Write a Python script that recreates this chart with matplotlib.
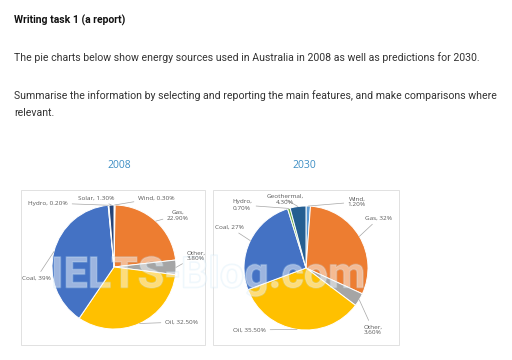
import matplotlib
matplotlib.use("Agg")
import matplotlib.pyplot as plt
import matplotlib.patheffects as pe
import numpy as np

# data (clockwise from 12 o'clock)
labels_2008 = ["Wind", "Gas", "Other", "Oil", "Coal", "Hydro", "Solar"]
values_2008 = [0.30, 22.90, 3.80, 32.50, 39.0, 0.20, 1.30]
text_2008 = ["Wind, 0.30%", "Gas,\n22.90%", "Other,\n3.80%", "Oil, 32.50%",
             "Coal, 39%", "Hydro, 0.20%", "Solar, 1.30%"]

labels_2030 = ["Wind", "Gas", "Other", "Oil", "Coal", "Hydro", "Geothermal"]
values_2030 = [1.20, 32.0, 3.60, 35.50, 27.0, 0.70, 4.30]
text_2030 = ["Wind,\n1.20%", "Gas, 32%", "Other,\n3.60%", "Oil, 35.50%",
             "Coal, 27%", "Hydro,\n0.70%", "Geothermal,\n4.30%"]

colors = {"Coal": "#4472C4", "Gas": "#ED7D31", "Other": "#A5A5A5",
          "Oil": "#FFC000", "Wind": "#5B9BD5", "Hydro": "#70AD47",
          "Solar": "#264478", "Geothermal": "#255E91"}

W, H = 512, 360
fig = plt.figure(figsize=(W / 100, H / 100), dpi=100)
bg = fig.add_axes([0, 0, 1, 1])
bg.set_xlim(0, W)
bg.set_ylim(H, 0)
bg.axis("off")

# header text
body = dict(fontsize=7.6, family="Roboto", color="#333333", va="center")
bg.text(14, 20, "Writing task 1 (a report)", fontsize=7.5, fontweight="bold",
        family="Roboto", color="#111111", va="center")
bg.text(14, 58, "The pie charts below show energy sources used in Australia in 2008 "
        "as well as predictions for 2030.", **body)
bg.text(14, 96, "Summarise the information by selecting and reporting the main "
        "features, and make comparisons where", **body)
bg.text(14, 113, "relevant.", **body)

# chart frames and titles
for x0, x1 in [(21, 205), (213, 399)]:
    bg.add_patch(plt.Rectangle((x0, 190), x1 - x0, 155, fill=False,
                               edgecolor="#dcdcdc", linewidth=0.6))
bg.text(119, 166, "2008", fontsize=7.5, family="Open Sans", color="#3d8ec4",
        ha="center", va="center")
bg.text(304, 166, "2030", fontsize=7.5, family="Open Sans", color="#3d8ec4",
        ha="center", va="center")


def draw_pie(cx, cy, r, names, values):
    ax = fig.add_axes([(cx - r) / W, (H - cy - r) / H, 2 * r / W, 2 * r / H])
    wedges, _ = ax.pie(values, colors=[colors[n] for n in names],
                       startangle=90, counterclock=False,
                       wedgeprops=dict(edgecolor="white", linewidth=0.7))
    ax.set_xlim(-1, 1)
    ax.set_ylim(-1, 1)
    ax.set_aspect("equal")
    return ax, wedges


ax1, w1 = draw_pie(114, 267, 62, labels_2008, values_2008)
ax2, w2 = draw_pie(306, 268, 62, labels_2030, values_2030)

# watermark
wm = fig.add_axes([0, 0, 1, 1])
wm.set_xlim(0, W)
wm.set_ylim(H, 0)
wm.axis("off")
wm.text(208, 276, "IELTS-Blog.com", fontsize=31, fontweight="bold",
        family="Roboto", color="white", alpha=0.28, ha="center",
        va="center",
        path_effects=[pe.withStroke(linewidth=1.2, foreground="#c4e3f7")])

# data labels on top
top = fig.add_axes([0, 0, 1, 1])
top.axis("off")

# label positions (pixels, top-left origin)
pos_2008 = [(138, 198, "left"), (178, 215, "center"), (196, 256, "center"),
            (165, 322, "left"), (22, 278, "left"), (68, 203, "right"),
            (96, 198, "center")]
pos_2030 = [(357, 202, "center"), (379, 218, "center"), (373, 330, "center"),
            (266, 330, "right"), (244, 227, "right"), (242, 205, "center"),
            (285, 199, "center")]

for ax, wedges, texts, positions in [(ax1, w1, text_2008, pos_2008),
                                     (ax2, w2, text_2030, pos_2030)]:
    for w, t, (tx, ty, ha) in zip(wedges, texts, positions):
        ang = np.deg2rad((w.theta1 + w.theta2) / 2)
        top.annotate(t, xy=(np.cos(ang), np.sin(ang)), xycoords=ax.transData,
                     xytext=(tx, H - ty), textcoords="figure pixels",
                     ha=ha, va="center", fontsize=4.6, family="Open Sans",
                     color="#595959", linespacing=1.25, annotation_clip=False,
                     arrowprops=dict(arrowstyle="-", color="#a6a6a6",
                                     linewidth=0.5, shrinkA=1, shrinkB=0))

fig.savefig("out.png", dpi=100)
